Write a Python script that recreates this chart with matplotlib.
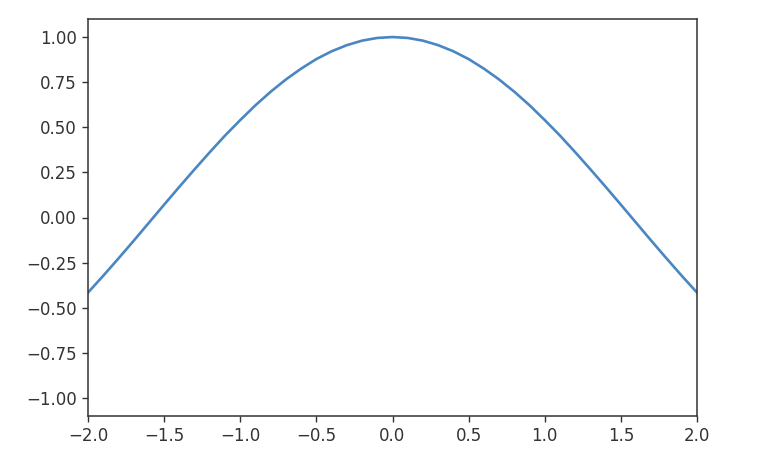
import matplotlib
matplotlib.use('Agg')
import matplotlib.pyplot as plt

# values, every 0.1 along x
x = [-2.0, -1.9, -1.8, -1.7, -1.6, -1.5, -1.4, -1.3, -1.2, -1.1, -1.0,
     -0.9, -0.8, -0.7, -0.6, -0.5, -0.4, -0.3, -0.2, -0.1, 0.0,
     0.1, 0.2, 0.3, 0.4, 0.5, 0.6, 0.7, 0.8, 0.9, 1.0,
     1.1, 1.2, 1.3, 1.4, 1.5, 1.6, 1.7, 1.8, 1.9, 2.0]
y = [-0.416, -0.323, -0.227, -0.129, -0.029, 0.071, 0.170, 0.267, 0.362, 0.454, 0.540,
     0.622, 0.697, 0.765, 0.825, 0.878, 0.921, 0.955, 0.980, 0.995, 1.000,
     0.995, 0.980, 0.955, 0.921, 0.878, 0.825, 0.765, 0.697, 0.622, 0.540,
     0.454, 0.362, 0.267, 0.170, 0.071, -0.029, -0.129, -0.227, -0.323, -0.416]

fig = plt.figure(figsize=(7.68, 4.57), dpi=100)
ax = fig.add_axes([88/768, 1-416/457, (697-88)/768, (416-19)/457])

ax.plot(x, y, color='#4a87c2', lw=1.9)
ax.set_xlim(-2, 2)
ax.set_ylim(-1.1, 1.1)
ax.set_xticks([-2.0, -1.5, -1.0, -0.5, 0.0, 0.5, 1.0, 1.5, 2.0])
ax.set_yticks([-1.0, -0.75, -0.5, -0.25, 0.0, 0.25, 0.5, 0.75, 1.0])
ax.tick_params(labelsize=12, length=4.5, width=1.0, colors='#333333', labelcolor='#333333')
for s in ax.spines.values():
    s.set_linewidth(1.1)
    s.set_color('#333333')

fig.savefig('out.png', dpi=100)
